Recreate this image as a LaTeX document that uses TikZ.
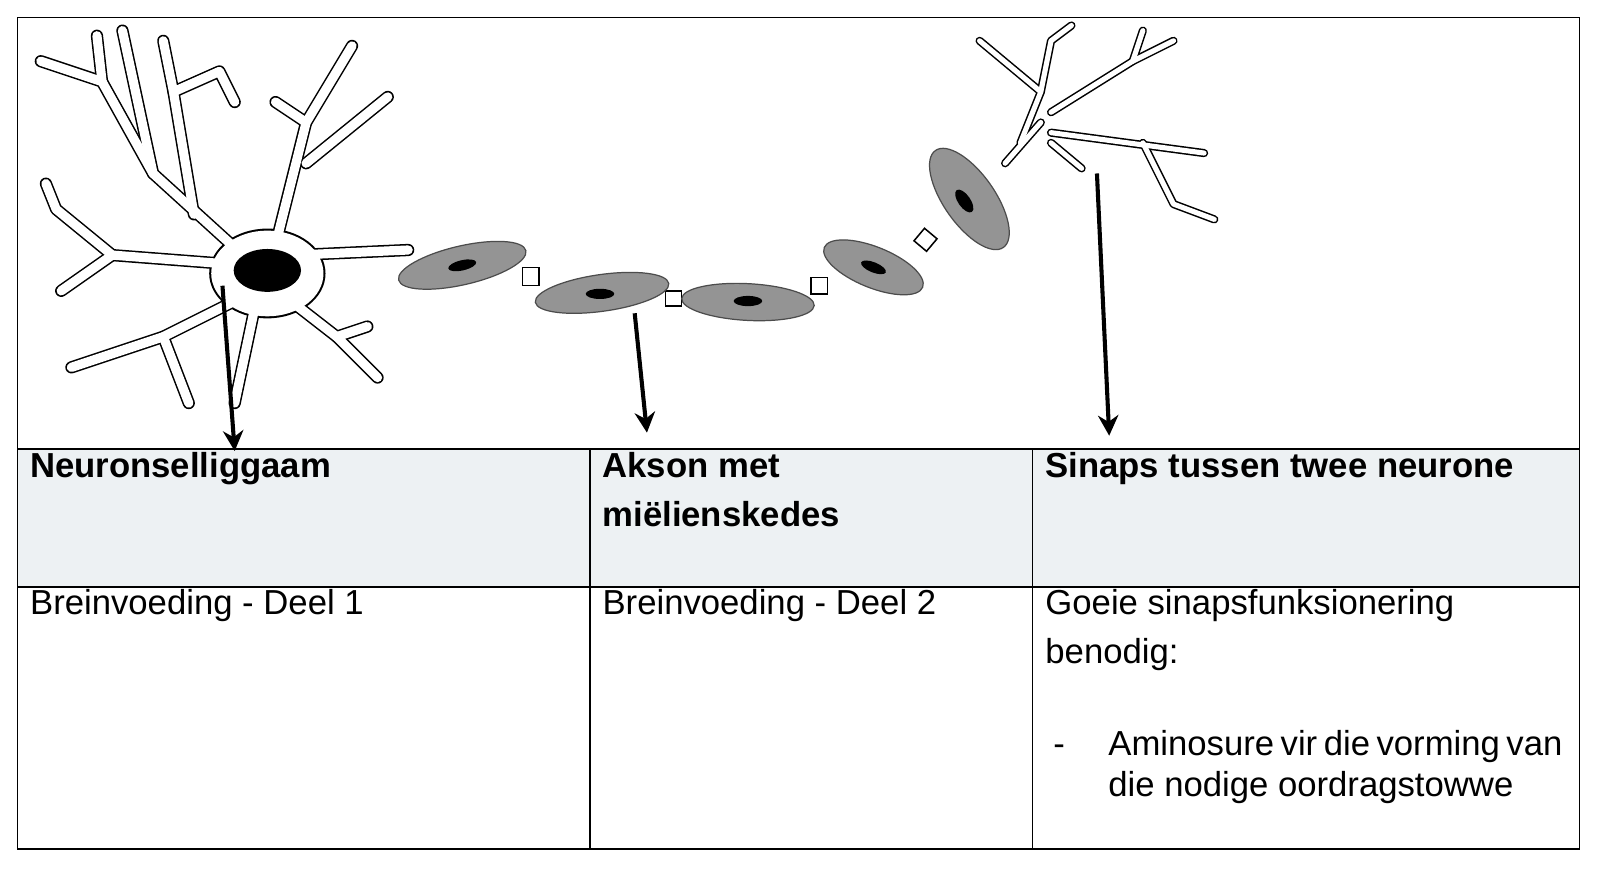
\documentclass[tikz,border=0pt]{standalone}
\usepackage{fontspec}
\setmainfont{Liberation Sans}
\usetikzlibrary{arrows.meta}
\begin{document}
\begin{tikzpicture}[x=1pt,y=-1pt,
  myel/.style={draw=black!70,fill=black!42,line width=1.2pt},
  nuc/.style={fill=black},
  arr/.style={line width=4pt,-{Stealth[length=20pt,width=20pt]}},
  cell/.style={anchor=north west,align=left,font=\fontsize{34}{48}\selectfont},
  hcell/.style={cell,font=\bfseries\fontsize{34}{48}\selectfont}]
\fill[fill=white] (0,0) rectangle (1568,851);
% header fill
\fill[fill={rgb,255:red,237;green,241;blue,243}] (17,440) rectangle (1548,575);
\def\dendpaths{
 {(260,270) -- (150,170) -- (100,80) -- (40,60)},
 {(150,170) -- (120,30)},
 {(100,80) -- (95,35)},
 {(190,210) -- (170,90) -- (160,40)},
 {(170,90) -- (215,70) -- (230,100)},
 {(270,240) -- (300,120) -- (345,45)},
 {(300,120) -- (270,100)},
 {(300,160) -- (380,95)},
 {(240,260) -- (110,250) -- (55,205) -- (45,180)},
 {(110,250) -- (60,285)},
 {(240,290) -- (160,330) -- (70,360)},
 {(160,330) -- (185,395)},
 {(250,300) -- (230,395)},
 {(285,295) -- (330,330) -- (370,370)},
 {(330,330) -- (360,320)},
 {(290,250) -- (400,245)}}
\def\termpaths{
 {(1000,140) -- (1020,90) -- (960,40)},
 {(1020,90) -- (1030,40) -- (1050,25)},
 {(1030,110) -- (1110,60) -- (1150,40)},
 {(1110,60) -- (1120,30)},
 {(1030,130) -- (1180,150)},
 {(1120,140) -- (1150,200) -- (1190,215)},
 {(1030,140) -- (1060,165)},
 {(985,160) -- (1020,120)}}
\fill[black] (262,268) ellipse (57 and 44);
\foreach \p in \dendpaths \draw[black,line width=12pt,line cap=round,line join=round] \p;
\foreach \p in \termpaths \draw[black,line width=8pt,line cap=round,line join=round] \p;
\fill[white] (262,268) ellipse (55 and 42);
\foreach \p in \dendpaths \draw[white,line width=9pt,line cap=round,line join=round] \p;
\foreach \p in \termpaths \draw[white,line width=5pt,line cap=round,line join=round] \p;
\fill[nuc] (262,265) ellipse (33 and 21);
% axon connectors
\draw[line width=1.5pt,fill=white] (512,262) rectangle (528,280);
\draw[line width=1.5pt,fill=white] (652,285) rectangle (668,300);
\draw[line width=1.5pt,fill=white] (795,272) rectangle (811,288);
\draw[line width=1.5pt,fill=white,rotate around={-40:(907,235)}] (899,227) rectangle (915,243);
% myelin segments
\draw[myel,rotate around={13:(453,260)}] (453,260) ellipse (64 and 19);
\fill[nuc,rotate around={13:(453,260)}] (453,260) ellipse (14 and 5);
\draw[myel,rotate around={8:(590,287)}] (590,287) ellipse (66 and 18);
\fill[nuc] (588,288) ellipse (14 and 5);
\draw[myel,rotate around={-3:(733,296)}] (733,296) ellipse (65 and 18);
\fill[nuc] (733,295) ellipse (14 and 5);
\draw[myel,rotate around={-22:(856,262)}] (856,262) ellipse (52 and 20);
\fill[nuc,rotate around={-22:(856,262)}] (856,262) ellipse (13 and 5);
\draw[myel,rotate around={-55:(950,195)}] (950,195) ellipse (58 and 25);
\fill[nuc,rotate around={-55:(945,197)}] (945,197) ellipse (13 and 6);
% arrows
\coordinate (a1s) at (218,280); \coordinate (a1e) at (230,442);
\coordinate (a2s) at (622,307); \coordinate (a2e) at (634,424);
\coordinate (a3s) at (1075,170); \coordinate (a3e) at (1087,427);
\draw[arr] (a1s) -- (a1e);
\draw[arr] (a2s) -- (a2e);
\draw[arr] (a3s) -- (a3e);
% table
\draw[line width=1.5pt] (17,17) rectangle (1548,832);
\draw[line width=1.5pt] (17,440) -- (1548,440) (17,575) -- (1548,575)
  (578,440) -- (578,832) (1012,440) -- (1012,832);
\node[hcell] (h1) at (26,440) {Neuronselliggaam};
\node[hcell] (h2) at (587,440) {Akson met\\miëlienskedes};
\node[hcell] (h3) at (1021,440) {Sinaps tussen twee neurone};
\node[cell] (b1) at (26,574) {Breinvoeding - Deel 1};
\node[cell] (b2) at (587,574) {Breinvoeding - Deel 2};
\node[cell] (b3) at (1021,574) {Goeie sinapsfunksionering\\benodig:};
\node[anchor=base west,inner sep=0pt,font=\fontsize{34}{41}\selectfont] (d) at (1032,740) {-};
\node[anchor=base west,inner sep=0pt,text width=445pt,align=justify,font=\fontsize{34}{41}\selectfont] (b4) at (1086,740) {\hyphenpenalty=10000\tolerance=9999\emergencystretch=100pt Aminosure vir die vorming van die nodige oordragstowwe};
\pgfresetboundingbox
\useasboundingbox (0,0) rectangle (1568,851);
\end{tikzpicture}
\end{document}
